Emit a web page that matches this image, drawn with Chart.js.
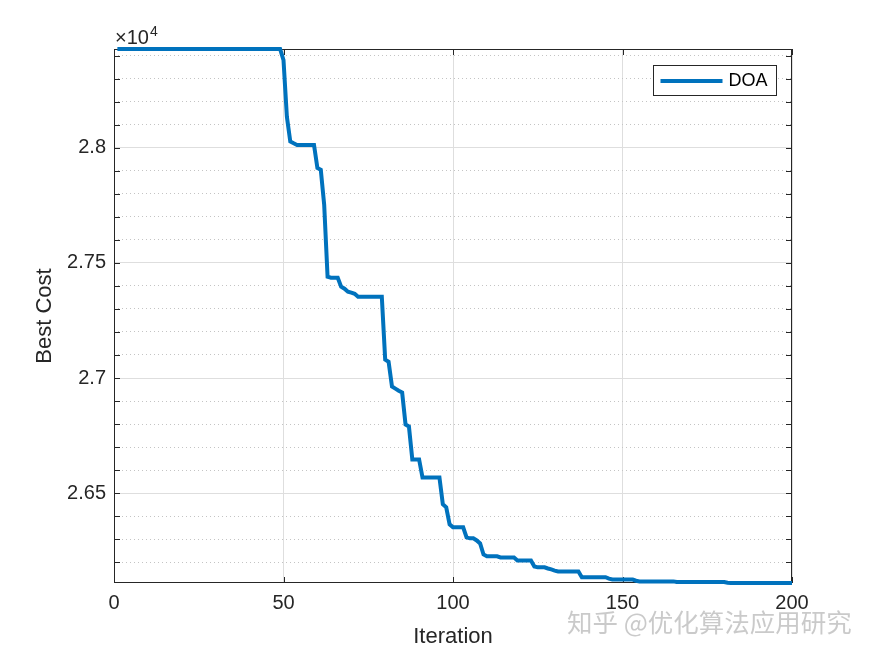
<!DOCTYPE html>
<html>
<head>
<meta charset="utf-8">
<script src="https://cdn.jsdelivr.net/npm/chart.js@4/dist/chart.umd.min.js"></script>
<style>
  html, body { margin: 0; padding: 0; background: #fff; }
  #wrap { width: 875px; height: 656px; }
</style>
</head>
<body>
<div id="wrap"><canvas id="chart" width="875" height="656"></canvas></div>
<script>
// Best cost per iteration (DOA)
const bestCost = [
  28430, 28430, 28430, 28430, 28430, 28430, 28430, 28430, 28430, 28430,
  28430, 28430, 28430, 28430, 28430, 28430, 28430, 28430, 28430, 28430,
  28430, 28430, 28430, 28430, 28430, 28430, 28430, 28430, 28430, 28430,
  28430, 28430, 28430, 28430, 28430, 28430, 28430, 28430, 28430, 28430,
  28430, 28430, 28430, 28430, 28430, 28430, 28430, 28430, 28430, 28382,
  28135, 28028, 28020, 28013, 28013, 28013, 28013, 28013, 28013, 27913,
  27905, 27753, 27440, 27436, 27436, 27436, 27397, 27388, 27375, 27371,
  27366, 27353, 27353, 27353, 27353, 27353, 27353, 27353, 27353, 27080,
  27071, 26963, 26954, 26945, 26937, 26798, 26789, 26646, 26646, 26646,
  26568, 26568, 26568, 26568, 26568, 26568, 26451, 26438, 26364, 26351,
  26351, 26351, 26351, 26307, 26303, 26303, 26294, 26281, 26233, 26225,
  26225, 26225, 26225, 26220, 26220, 26220, 26220, 26220, 26207, 26207,
  26207, 26207, 26207, 26181, 26177, 26177, 26177, 26172, 26168, 26163,
  26159, 26159, 26159, 26159, 26159, 26159, 26159, 26134, 26134, 26134,
  26134, 26134, 26134, 26134, 26134, 26128, 26124, 26124, 26124, 26124,
  26124, 26124, 26124, 26119, 26116, 26116, 26116, 26116, 26116, 26116,
  26116, 26116, 26116, 26116, 26116, 26113, 26113, 26113, 26113, 26113,
  26113, 26113, 26113, 26113, 26113, 26113, 26113, 26113, 26113, 26113,
  26110, 26109, 26109, 26109, 26109, 26109, 26109, 26109, 26109, 26109,
  26109, 26109, 26109, 26109, 26109, 26109, 26109, 26109, 26109, 26109
];
const iterations = bestCost.map((_, i) => i + 1);
const xTicks = [0, 50, 100, 150, 200];
const yMajor = [26500, 27000, 27500, 28000];
const yMin = 26109, yMax = 28430;

const AXIS = '#262626';
const FONT = '"Liberation Sans", Arial, Helvetica, sans-serif';
const isMajorY = v => v % 500 === 0;

const frame = {
  id: 'frame',
  beforeDatasetsDraw(chart) {
    const { ctx, chartArea: a, scales: { x, y } } = chart;
    ctx.save();
    ctx.strokeStyle = AXIS;
    ctx.lineWidth = 1;
    ctx.strokeRect(Math.round(a.left) + 0.5, Math.round(a.top) + 0.5,
      Math.round(a.right - a.left) - 1, Math.round(a.bottom - a.top) - 1);
    ctx.beginPath();
    const tl = 6;
    y.ticks.forEach(t => {
      const py = Math.round(y.getPixelForValue(t.value)) + 0.5;
      ctx.moveTo(a.left, py); ctx.lineTo(a.left + tl, py);
      ctx.moveTo(a.right, py); ctx.lineTo(a.right - tl, py);
    });
    xTicks.forEach(v => {
      const px = Math.round(x.getPixelForValue(v)) + 0.5;
      ctx.moveTo(px, a.bottom); ctx.lineTo(px, a.bottom - tl);
      ctx.moveTo(px, a.top); ctx.lineTo(px, a.top + tl);
    });
    ctx.stroke();
    ctx.restore();
  },
  afterDraw(chart) {
    const { ctx, chartArea: a } = chart;
    ctx.save();
    // exponent label
    ctx.fillStyle = AXIS;
    ctx.textBaseline = 'alphabetic';
    ctx.font = '20px ' + FONT;
    ctx.fillText('\u00d710', a.left + 1, a.top - 5);
    const w = ctx.measureText('\u00d710').width;
    ctx.font = '14px ' + FONT;
    ctx.fillText('4', a.left + 1 + w + 1, a.top - 13);

    // legend
    const ds = chart.data.datasets[0];
    const lx = 653.5, ly = 65.5, lw = 123, lh = 30;
    ctx.fillStyle = '#fff';
    ctx.fillRect(lx, ly, lw, lh);
    ctx.strokeStyle = AXIS;
    ctx.lineWidth = 1;
    ctx.strokeRect(lx, ly, lw, lh);
    ctx.beginPath();
    ctx.strokeStyle = ds.borderColor;
    ctx.lineWidth = ds.borderWidth;
    ctx.moveTo(lx + 7, ly + 15.5);
    ctx.lineTo(lx + 69, ly + 15.5);
    ctx.stroke();
    ctx.fillStyle = '#000';
    ctx.font = '18px ' + FONT;
    ctx.textBaseline = 'middle';
    ctx.fillText(ds.label, lx + 75, ly + 16);

    // watermark
    ctx.font = '25.5px "Noto Sans CJK SC", sans-serif';
    ctx.fillStyle = 'rgba(150,150,150,0.5)';
    ctx.textBaseline = 'middle';
    ctx.fillText('知乎 @优化算法应用研究', 567, 622);
    ctx.restore();
  }
};

new Chart(document.getElementById('chart'), {
  type: 'line',
  data: {
    labels: iterations,
    datasets: [{
      label: 'DOA',
      data: iterations.map((it, i) => ({ x: it, y: bestCost[i] })),
      borderColor: '#0072BD',
      borderWidth: 4,
      pointRadius: 0,
      tension: 0,
      fill: false,
      clip: 4
    }]
  },
  options: {
    responsive: false,
    animation: false,
    layout: { padding: { top: 49, right: 83, left: 0, bottom: 0 } },
    plugins: { legend: { display: false }, tooltip: { enabled: false } },
    scales: {
      x: {
        type: 'linear',
        min: 0, max: 200,
        afterFit: s => { s.height = 73; },
        afterBuildTicks: s => { s.ticks = xTicks.map(v => ({ value: v })); },
        ticks: { color: AXIS, font: { family: FONT, size: 20 }, padding: 8, maxRotation: 0 },
        grid: { color: '#dedede', lineWidth: 1, drawTicks: false },
        border: { display: false },
        title: { display: true, text: 'Iteration', color: AXIS, font: { family: FONT, size: 22 }, padding: { top: 0, bottom: 6 } }
      },
      y: {
        type: 'linear',
        min: yMin, max: yMax,
        afterFit: s => { s.width = 114; },
        ticks: {
          stepSize: 100,
          includeBounds: false,
          autoSkip: false,
          color: AXIS,
          font: { family: FONT, size: 20 },
          padding: 8,
          callback: v => (yMajor.includes(v) ? String(v / 1e4) : '')
        },
        grid: {
          drawTicks: false,
          lineWidth: 1,
          color: c => (c.tick && isMajorY(c.tick.value) ? '#dedede' : '#c4c4c4')
        },
        border: {
          display: false,
          dash: c => (c.tick && !isMajorY(c.tick.value) ? [1, 3] : [])
        },
        title: { display: true, text: 'Best Cost', color: AXIS, font: { family: FONT, size: 22 }, padding: { top: 32, bottom: 0 } }
      }
    }
  },
  plugins: [frame]
});
</script>
</body>
</html>
